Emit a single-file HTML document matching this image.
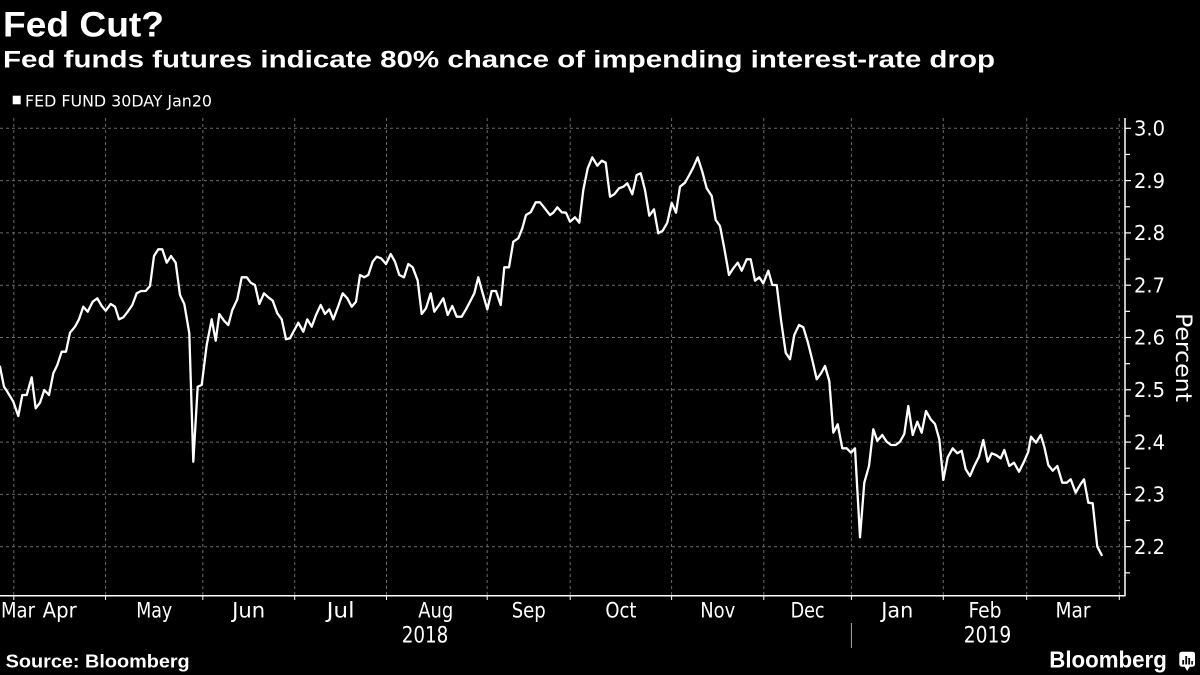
<!DOCTYPE html>
<html>
<head>
<meta charset="utf-8">
<style>
  html,body{margin:0;padding:0;background:#000;}
  body{width:1200px;height:675px;overflow:hidden;}
  svg{display:block;}
  .t{font-family:"Liberation Sans",Arial,sans-serif;font-weight:bold;fill:#fff;}
  .c{font-family:"DejaVu Sans Condensed","DejaVu Sans","Liberation Sans",sans-serif;fill:#fff;}
</style>
</head>
<body>
<svg width="1200" height="675" viewBox="0 0 1200 675" xmlns="http://www.w3.org/2000/svg">
  <rect x="0" y="0" width="1200" height="675" fill="#000"/>

  <!-- Titles -->
  <text class="t" x="3" y="36.7" font-size="35" textLength="161" lengthAdjust="spacingAndGlyphs">Fed Cut?</text>
  <text class="t" x="3" y="67.7" font-size="24" textLength="992" lengthAdjust="spacingAndGlyphs">Fed funds futures indicate 80% chance of impending interest-rate drop</text>

  <!-- Legend -->
  <rect x="12.7" y="95.7" width="8" height="8.6" fill="#fff"/>
  <text class="c" x="25" y="106.7" font-size="16" textLength="187" lengthAdjust="spacingAndGlyphs">FED FUND 30DAY Jan20</text>

  <!-- Horizontal gridlines -->
  <g stroke="#6a6a6a" stroke-width="1" stroke-dasharray="3,3" fill="none">
    <line x1="0" y1="128.3" x2="1123" y2="128.3"/>
    <line x1="0" y1="180.6" x2="1123" y2="180.6"/>
    <line x1="0" y1="232.9" x2="1123" y2="232.9"/>
    <line x1="0" y1="285.2" x2="1123" y2="285.2"/>
    <line x1="0" y1="337.5" x2="1123" y2="337.5"/>
    <line x1="0" y1="389.8" x2="1123" y2="389.8"/>
    <line x1="0" y1="442.1" x2="1123" y2="442.1"/>
    <line x1="0" y1="494.4" x2="1123" y2="494.4"/>
    <line x1="0" y1="546.7" x2="1123" y2="546.7"/>
  </g>

  <!-- Vertical gridlines -->
  <g stroke="#6a6a6a" stroke-width="1" stroke-dasharray="3,3" fill="none">
    <line x1="13.8" y1="118" x2="13.8" y2="595"/>
    <line x1="105.6" y1="118" x2="105.6" y2="595"/>
    <line x1="202.8" y1="118" x2="202.8" y2="595"/>
    <line x1="294.7" y1="118" x2="294.7" y2="595"/>
    <line x1="386.5" y1="118" x2="386.5" y2="595"/>
    <line x1="487.2" y1="118" x2="487.2" y2="595"/>
    <line x1="570.2" y1="118" x2="570.2" y2="595"/>
    <line x1="671.6" y1="118" x2="671.6" y2="595"/>
    <line x1="763.8" y1="118" x2="763.8" y2="595"/>
    <line x1="851.4" y1="118" x2="851.4" y2="595"/>
    <line x1="943.3" y1="118" x2="943.3" y2="595"/>
    <line x1="1026.7" y1="118" x2="1026.7" y2="595"/>
    <line x1="1119.3" y1="118" x2="1119.3" y2="595"/>
  </g>

  <!-- Axes -->
  <g stroke="#fff" stroke-width="1.5" fill="none">
    <line x1="0" y1="595.7" x2="1125.5" y2="595.7"/>
    <line x1="1125" y1="118" x2="1125" y2="596"/>
  </g>
  <!-- X ticks -->
  <g stroke="#fff" stroke-width="1" fill="none">
    <line x1="13.8" y1="596" x2="13.8" y2="600"/>
    <line x1="105.6" y1="596" x2="105.6" y2="600"/>
    <line x1="202.8" y1="596" x2="202.8" y2="600"/>
    <line x1="294.7" y1="596" x2="294.7" y2="600"/>
    <line x1="386.5" y1="596" x2="386.5" y2="600"/>
    <line x1="487.2" y1="596" x2="487.2" y2="600"/>
    <line x1="570.2" y1="596" x2="570.2" y2="600"/>
    <line x1="671.6" y1="596" x2="671.6" y2="600"/>
    <line x1="763.8" y1="596" x2="763.8" y2="600"/>
    <line x1="851.4" y1="596" x2="851.4" y2="600"/>
    <line x1="943.3" y1="596" x2="943.3" y2="600"/>
    <line x1="1026.7" y1="596" x2="1026.7" y2="600"/>
    <line x1="1119.3" y1="596" x2="1119.3" y2="600"/>
    <!-- year separator -->
    <line x1="851.4" y1="623" x2="851.4" y2="648" stroke="#aaa"/>
  </g>
  <!-- Y ticks -->
  <g stroke="#fff" stroke-width="1.2" fill="none">
    <line x1="1125" y1="128.3" x2="1131" y2="128.3"/>
    <line x1="1125" y1="180.6" x2="1131" y2="180.6"/>
    <line x1="1125" y1="232.9" x2="1131" y2="232.9"/>
    <line x1="1125" y1="285.2" x2="1131" y2="285.2"/>
    <line x1="1125" y1="337.5" x2="1131" y2="337.5"/>
    <line x1="1125" y1="389.8" x2="1131" y2="389.8"/>
    <line x1="1125" y1="442.1" x2="1131" y2="442.1"/>
    <line x1="1125" y1="494.4" x2="1131" y2="494.4"/>
    <line x1="1125" y1="546.7" x2="1131" y2="546.7"/>
    <line x1="1125" y1="154.45" x2="1130" y2="154.45"/>
    <line x1="1125" y1="206.75" x2="1130" y2="206.75"/>
    <line x1="1125" y1="259.05" x2="1130" y2="259.05"/>
    <line x1="1125" y1="311.35" x2="1130" y2="311.35"/>
    <line x1="1125" y1="363.65" x2="1130" y2="363.65"/>
    <line x1="1125" y1="415.95" x2="1130" y2="415.95"/>
    <line x1="1125" y1="468.25" x2="1130" y2="468.25"/>
    <line x1="1125" y1="520.55" x2="1130" y2="520.55"/>
    <line x1="1125" y1="572.85" x2="1130" y2="572.85"/>
  </g>

  <!-- Y labels -->
  <g class="c" font-size="20">
    <text x="1134" y="135.5" textLength="31" lengthAdjust="spacingAndGlyphs">3.0</text>
    <text x="1134" y="187.8" textLength="31" lengthAdjust="spacingAndGlyphs">2.9</text>
    <text x="1134" y="240.1" textLength="31" lengthAdjust="spacingAndGlyphs">2.8</text>
    <text x="1134" y="292.4" textLength="31" lengthAdjust="spacingAndGlyphs">2.7</text>
    <text x="1134" y="344.7" textLength="31" lengthAdjust="spacingAndGlyphs">2.6</text>
    <text x="1134" y="397.0" textLength="31" lengthAdjust="spacingAndGlyphs">2.5</text>
    <text x="1134" y="449.3" textLength="31" lengthAdjust="spacingAndGlyphs">2.4</text>
    <text x="1134" y="501.6" textLength="31" lengthAdjust="spacingAndGlyphs">2.3</text>
    <text x="1134" y="553.9" textLength="31" lengthAdjust="spacingAndGlyphs">2.2</text>
  </g>
  <text class="c" font-size="22" transform="translate(1176,357.5) rotate(90)" text-anchor="middle" textLength="89" lengthAdjust="spacingAndGlyphs">Percent</text>

  <!-- X labels -->
  <g class="c" font-size="21">
    <text x="1" y="617.3" textLength="34" lengthAdjust="spacingAndGlyphs">Mar</text>
    <text x="42.7" y="617.3" textLength="34" lengthAdjust="spacingAndGlyphs">Apr</text>
    <text x="136.2" y="617.3" textLength="36" lengthAdjust="spacingAndGlyphs">May</text>
    <text x="232.2" y="617.3" textLength="33" lengthAdjust="spacingAndGlyphs">Jun</text>
    <text x="326.6" y="617.3" textLength="28" lengthAdjust="spacingAndGlyphs">Jul</text>
    <text x="418.3" y="617.3" textLength="35" lengthAdjust="spacingAndGlyphs">Aug</text>
    <text x="511.7" y="617.3" textLength="34" lengthAdjust="spacingAndGlyphs">Sep</text>
    <text x="605.4" y="617.3" textLength="31" lengthAdjust="spacingAndGlyphs">Oct</text>
    <text x="700.2" y="617.3" textLength="35" lengthAdjust="spacingAndGlyphs">Nov</text>
    <text x="790.6" y="617.3" textLength="34" lengthAdjust="spacingAndGlyphs">Dec</text>
    <text x="881.3" y="617.3" textLength="32" lengthAdjust="spacingAndGlyphs">Jan</text>
    <text x="968.5" y="617.3" textLength="33" lengthAdjust="spacingAndGlyphs">Feb</text>
    <text x="1055.5" y="617.3" textLength="35" lengthAdjust="spacingAndGlyphs">Mar</text>
  </g>
  <g class="c" font-size="22">
    <text x="401.7" y="642.3" textLength="46.6" lengthAdjust="spacingAndGlyphs">2018</text>
    <text x="963.8" y="642.3" textLength="47.4" lengthAdjust="spacingAndGlyphs">2019</text>
  </g>

  <!-- Data line -->
  <polyline fill="none" stroke="#fff" stroke-width="2.3" stroke-linejoin="round" stroke-linecap="round" points="
0,366.7 4,386.7 6.7,390.7 13.3,401.7 18.3,416 22.3,395 26.7,395 31.7,377.3 35.7,408.3 40,402.7 44.3,390 49,395 53.3,373.3 57.3,365 61.7,351.7 66,351.7 70,332.7 75,326.7 79,319.3 83.3,306.7 87.7,311.7 92.7,301.7 97.3,298.3 101.7,306 105.7,310.7 110.7,304 115,306.7 119,319.3 123.3,317.3 127.7,311.7 132.3,305 136.7,293.3 141,291 145.7,291 150,286 154,256 158.3,249.3 162.3,249.3 166.7,262.7 171,256 175.7,262.7 180,295 184.3,304 189.3,333.3 193.3,461.7 197.7,386.7 201.7,385 206.7,345 211.7,319.3 215.7,340.7 219.3,314 224,320.7 228.3,325 232.3,310 237.3,299.3 241.7,277.3 246.7,277.3 250.7,282.7 255,285 259.3,304 264,293.3 268.3,297.3 272.7,300.7
277.3,313.3 281.7,319.3 286,339.3 290,338.3 294,330.7 298.3,322.7 303.3,331.7 307.3,319.3 311.7,326.7 316,315 320.7,305 325,314 329.3,309.3 333.3,319.3 338.3,306 342.7,293.3 347.3,298.3 351.7,306.7 356,301.7 360,275 364.3,277.3 368.3,275 372.7,261.7 376.7,256.7 381,258.3 386,264 390.7,254 395,261.7 399.3,275 404,277.3 408.3,264 412.7,267.3 417.7,280.7 421.7,314 426,308.3 430.7,293.3 434.3,311.7 439,305 443.3,298.3 447.7,315 452.3,306 456.7,316.7 461.7,316.7 466,309.3 470,301.7 474.3,293.3 478.3,277.3 482.7,293.3 487.3,309.3 491.7,291 496,291 500.7,305 504.3,267.3 509,267.3 513.3,241.7 518.3,238.3 522.3,228.3 526,215 530.7,212.3 535.7,202.3 540,202.3 544,207.3
550,215 553.3,212.7 557.3,207.3 561.7,212.3 566,212.7 570,221.7 575,217.3 579.3,222.7 583.3,190 587.7,168.3 592.3,157.3 597.3,165.7 601.7,160.7 605.7,162.7 610,196.7 614.3,194.3 619,188.3 623.3,186.7 627.3,183.3 632.3,194.3 636.7,175 640.7,173.3 645,190 649.3,215.7 654,209.3 658.3,233.3 662.7,230.7 667.3,222.7 671.7,202.7 676,212.7 680,186.7 685,182.7 689.3,175 693.3,167.3 697.7,157.3 702.3,171.7 706.7,188.3 711.7,196 715.7,220 720,226 724.3,248.3 729,275 733.3,268.3 737.7,262.7 741.7,270.7 746.7,259.3 750.7,259.3 755,280.7 759.3,277.3 763.3,283.3 768.3,270.7 772.3,285 776.7,285 781,320 785.7,352.7 790,359.3 794.3,335 799,325 803.3,327.3 807.7,341.7 812.3,360 816.7,379.3 821,373.3
825,366 829.3,381 833.3,432.7 837.7,424.3 842.3,448.3 846.7,448.3 851,452.7 855,448.3 860,537.3 864.3,482.7 869,466 873.3,429.3 877.3,440.7 882.3,435 886.7,441.7 891,445 895.7,445 900,441.7 904.3,434 908.3,406 912.7,435 917.3,421.7 921.7,432.7 926,411 930.7,419.3 935,424 939.3,439.3 943.3,480 947.7,457.3 952.7,448.3 957.3,453.3 961.7,450.7 965.7,469.3 970,476 974.3,466 979,456.7 983.3,440 987.7,461.7 991.7,453.3 996,455 1000.7,458.3 1004.3,450 1009.3,466 1014,462.7 1019,471.7 1024,461.7 1028.3,451.7 1031,436.7 1036,442.7 1040.7,435 1044.3,446.7 1048.3,465 1052.7,470.7 1057.3,466 1062.3,482.7 1066.7,482.7 1070.7,479.3 1075.7,492.7 1080,485 1084,479.3 1088.3,502.7 1092.7,503.3 1097.3,546.7 1101.7,555"/>

  <!-- Footer -->
  <text class="t" x="5.7" y="667.5" font-size="18" textLength="184" lengthAdjust="spacingAndGlyphs">Source: Bloomberg</text>
  <text class="t" x="1049.3" y="667.7" font-size="23" textLength="117.5" lengthAdjust="spacingAndGlyphs">Bloomberg</text>
  <!-- Bloomberg icon -->
  <rect x="1179.3" y="651.7" width="15.7" height="15" rx="2.5" ry="2.5" fill="#fff"/>
  <polygon points="1184.5,666.5 1189.8,666.5 1187.2,671" fill="#fff"/>
  <g fill="#000">
    <rect x="1182.3" y="660" width="1.8" height="4.5"/>
    <rect x="1185.3" y="656" width="1.8" height="8.5"/>
    <rect x="1188.3" y="658" width="1.8" height="6.5"/>
    <rect x="1191.3" y="661" width="1.6" height="3.5"/>
  </g>
</svg>
</body>
</html>
